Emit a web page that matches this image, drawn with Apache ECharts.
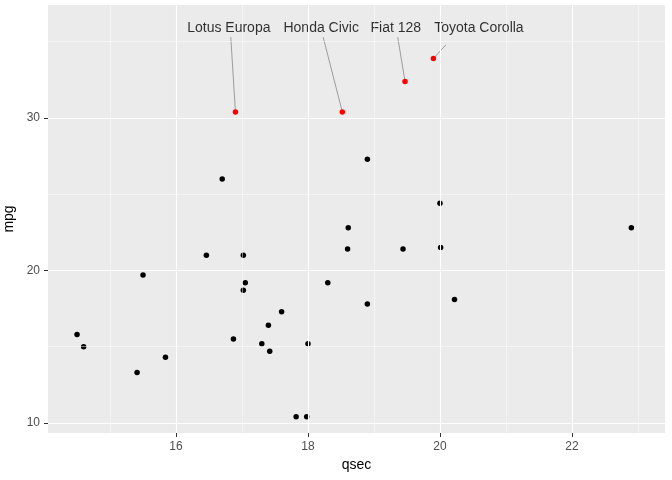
<!DOCTYPE html>
<html>
<head>
<meta charset="utf-8">
<script src="https://cdn.jsdelivr.net/npm/echarts@6/dist/echarts.min.js"></script>
<style>body{margin:0}#chart{width:672px;height:480px}</style>
</head>
<body>
<div id="chart"></div>
<script>
// mtcars: qsec vs mpg
const qsec = [16.46, 17.02, 18.61, 19.44, 17.02, 20.22, 15.84, 20.00, 22.90, 18.30, 18.90, 17.40, 17.60, 18.00, 17.98, 17.82, 17.42, 19.47, 18.52, 19.90, 20.01, 16.87, 17.30, 15.41, 17.05, 18.90, 16.70, 16.90, 14.50, 15.50, 14.60, 18.60];
const mpg = [21.0, 21.0, 22.8, 21.4, 18.7, 18.1, 14.3, 24.4, 22.8, 19.2, 17.8, 16.4, 17.3, 15.2, 10.4, 10.4, 14.7, 32.4, 30.4, 33.9, 21.5, 15.5, 15.2, 13.3, 19.2, 27.3, 26.0, 30.4, 15.8, 19.7, 15.0, 21.4];

// labelled cars (mpg > 30) and where their repelled labels sit
const labelNames = ['Lotus Europa', 'Honda Civic', 'Fiat 128', 'Toyota Corolla'];
const labelQsec = [16.90, 18.52, 19.47, 19.90];
const labelMpg = [30.4, 30.4, 32.4, 33.9];
const textQsec = [16.80, 18.20, 19.33, 20.59];
const textMpg = [35.9, 35.9, 35.9, 35.9];
const segEndQsec = [16.83, 18.23, 19.36, 20.09];
const segEndMpg = [35.3, 35.3, 35.3, 34.8];

const xMajor = [16, 18, 20, 22];
const xMinor = [15, 17, 19, 21, 23];
const yMajor = [10, 20, 30];
const yMinor = [15, 25, 35];

const black = [], red = [];
qsec.forEach((x, i) => (mpg[i] > 30 ? red : black).push([x, mpg[i]]));

const grey = '#4D4D4D';
const segments = labelNames.map((n, i) => ({
    type: 'line',
    data: [[labelQsec[i], labelMpg[i]], [segEndQsec[i], segEndMpg[i]]],
    symbol: 'none',
    lineStyle: { color: '#666', width: 0.6 },
    silent: true,
    z: 1
}));

const gridLine = (axis, v, w) => ({ [axis]: v, lineStyle: { color: '#fff', width: w, type: 'solid' } });

const chart = echarts.init(document.getElementById('chart'));
chart.setOption({
    animation: false,
    textStyle: { fontFamily: 'Liberation Sans, Arial' },
    grid: { left: 48, right: 7, top: 5, bottom: 47, show: true, backgroundColor: '#EBEBEB', borderWidth: 0, outerBoundsMode: 'none', containLabel: false },
    xAxis: {
        type: 'value', min: 14.06, max: 23.41,
        name: 'qsec', nameLocation: 'middle', nameGap: 24,
        nameTextStyle: { color: '#000', fontSize: 14 },
        axisLine: { show: false },
        axisTick: { show: true, length: 4, lineStyle: { color: '#333' }, customValues: xMajor },
        axisLabel: { color: grey, fontSize: 12, customValues: xMajor },
        splitLine: { show: false }
    },
    yAxis: {
        type: 'value', min: 9.34, max: 37.41,
        name: 'mpg', nameLocation: 'middle', nameGap: 28,
        nameTextStyle: { color: '#000', fontSize: 14 },
        axisLine: { show: false },
        axisTick: { show: true, length: 4, lineStyle: { color: '#333' }, customValues: yMajor },
        axisLabel: { color: grey, fontSize: 12, customValues: yMajor },
        splitLine: { show: false }
    },
    series: [
        {
            type: 'line', data: [], symbol: 'none',
            markLine: {
                silent: true, symbol: 'none', label: { show: false }, animation: false,
                data: [
                    ...yMinor.map(v => gridLine('yAxis', v, 0.5)),
                    ...yMajor.map(v => gridLine('yAxis', v, 1.1)),
                    ...xMinor.map(v => gridLine('xAxis', v, 0.5)),
                    ...xMajor.map(v => gridLine('xAxis', v, 1.1))
                ]
            }
        },
        ...segments,
        { type: 'scatter', data: black, symbolSize: 5.5, itemStyle: { color: '#000', opacity: 1 }, z: 3 },
        { type: 'scatter', data: red, symbolSize: 5.5, itemStyle: { color: '#FF0000', opacity: 1 }, z: 3 },
        {
            type: 'scatter', symbolSize: 0, z: 4,
            data: labelNames.map((n, i) => ({ value: [textQsec[i], textMpg[i]], name: n })),
            label: { show: true, position: 'inside', formatter: '{b}', color: '#000', fontSize: 14 }
        }
    ]
});
</script>
</body>
</html>
